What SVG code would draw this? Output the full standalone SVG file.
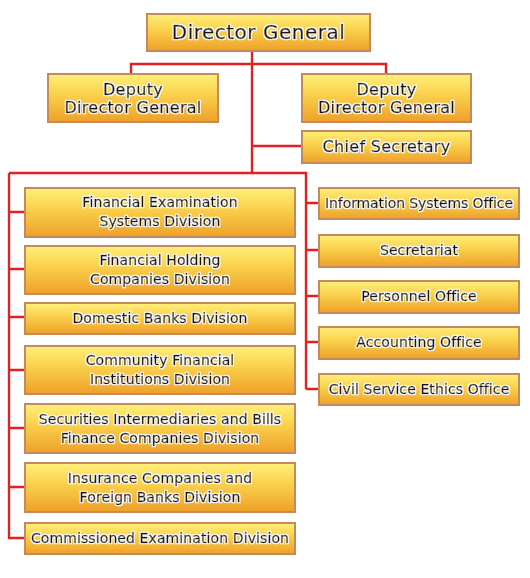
<svg xmlns="http://www.w3.org/2000/svg" width="530" height="578" viewBox="0 0 530 578">
<defs>
<linearGradient id="g" x1="0" y1="0" x2="0" y2="1">
<stop offset="0" stop-color="#fff07a"/>
<stop offset="0.45" stop-color="#f9cf4a"/>
<stop offset="1" stop-color="#eea02a"/>
</linearGradient>
<filter id="halo" x="-5%" y="-30%" width="110%" height="160%">
<feMorphology in="SourceAlpha" operator="dilate" radius="1.3" result="d"/>
<feFlood flood-color="#ffffff"/>
<feComposite in2="d" operator="in" result="w"/>
<feMerge><feMergeNode in="w"/><feMergeNode in="SourceGraphic"/></feMerge>
</filter>
</defs>
<style>
rect.box{fill:url(#g);stroke:#c48a5e;stroke-width:2}
text{font-family:"DejaVu Sans","Liberation Sans",sans-serif;fill:#141414;stroke:#141414;stroke-width:0.45;text-anchor:middle}
g.lbl{filter:url(#halo)}
.t20{font-size:20px;letter-spacing:0.5px}
.t16{font-size:16px;letter-spacing:0.3px}
.t14{font-size:14px;letter-spacing:0.1px}
#connectors path{fill:none;stroke:#e02222;stroke-width:2.4}
</style>
<rect width="530" height="578" fill="#ffffff"/>
<g id="connectors">
<path d="M252,51 V173"/>
<path d="M131,73 V64 H386 V73"/>
<path d="M252,146 H301"/>
<path d="M9,173 H306 V389"/>
<path d="M9,173 V538 H24"/>
<path d="M9,212 H25 M9,269 H25 M9,317 H25 M9,370 H25 M9,428 H25 M9,487 H25"/>
<path d="M306,203 H318 M306,250 H318 M306,296 H318 M306,342 H318 M306,389 H318"/>
</g>
<g id="n-dg"><rect class="box" x="147" y="14" width="223" height="37"/><g class="lbl"><text class="t20" x="258.5" y="39">Director General</text></g></g>
<g id="n-ddg1"><rect class="box" x="48" y="74" width="170" height="48"/><g class="lbl"><text class="t16" x="133" y="95">Deputy</text><text class="t16" x="133" y="113">Director General</text></g></g>
<g id="n-ddg2"><rect class="box" x="302" y="74" width="169" height="48"/><g class="lbl"><text class="t16" x="386.5" y="95">Deputy</text><text class="t16" x="386.5" y="113">Director General</text></g></g>
<g id="n-cs"><rect class="box" x="302" y="131" width="169" height="32"/><g class="lbl"><text class="t16" x="386.5" y="152">Chief Secretary</text></g></g>
<g id="n-fes"><rect class="box" x="25" y="188" width="270" height="49"/><g class="lbl"><text class="t14" x="160" y="207">Financial Examination</text><text class="t14" x="160" y="226">Systems Division</text></g></g>
<g id="n-fhc"><rect class="box" x="25" y="246" width="270" height="48"/><g class="lbl"><text class="t14" x="160" y="265">Financial Holding</text><text class="t14" x="160" y="284">Companies Division</text></g></g>
<g id="n-dbd"><rect class="box" x="25" y="303" width="270" height="31"/><g class="lbl"><text class="t14" x="160" y="323">Domestic Banks Division</text></g></g>
<g id="n-cfi"><rect class="box" x="25" y="346" width="270" height="48"/><g class="lbl"><text class="t14" x="160" y="365">Community Financial</text><text class="t14" x="160" y="384">Institutions Division</text></g></g>
<g id="n-sib"><rect class="box" x="25" y="404" width="270" height="49"/><g class="lbl"><text class="t14" x="160" y="424">Securities Intermediaries and Bills</text><text class="t14" x="160" y="443">Finance Companies Division</text></g></g>
<g id="n-icf"><rect class="box" x="25" y="463" width="270" height="49"/><g class="lbl"><text class="t14" x="160" y="483">Insurance Companies and</text><text class="t14" x="160" y="502">Foreign Banks Division</text></g></g>
<g id="n-ced"><rect class="box" x="25" y="523" width="270" height="31"/><g class="lbl"><text class="t14" x="160" y="543">Commissioned Examination Division</text></g></g>
<g id="n-iso"><rect class="box" x="319" y="188" width="200" height="31"/><g class="lbl"><text class="t14" x="419" y="208" style="letter-spacing:-0.1px">Information Systems Office</text></g></g>
<g id="n-sec"><rect class="box" x="319" y="235" width="200" height="32"/><g class="lbl"><text class="t14" x="419" y="255">Secretariat</text></g></g>
<g id="n-po"><rect class="box" x="319" y="281" width="200" height="32"/><g class="lbl"><text class="t14" x="419" y="301">Personnel Office</text></g></g>
<g id="n-ao"><rect class="box" x="319" y="327" width="200" height="32"/><g class="lbl"><text class="t14" x="419" y="347">Accounting Office</text></g></g>
<g id="n-cseo"><rect class="box" x="319" y="374" width="200" height="31"/><g class="lbl"><text class="t14" x="419" y="394">Civil Service Ethics Office</text></g></g>
</svg>
